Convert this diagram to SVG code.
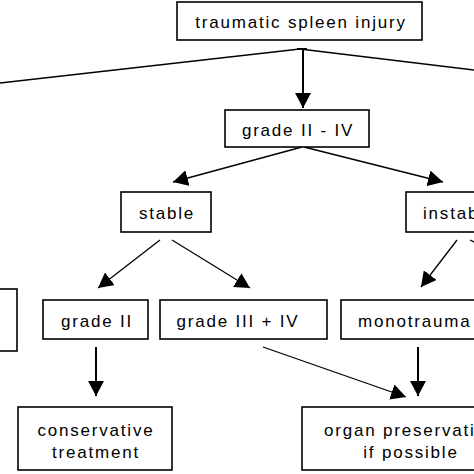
<svg xmlns="http://www.w3.org/2000/svg" width="474" height="474" viewBox="0 0 474 474">
<style>
.box{fill:#fff;stroke:#000;stroke-width:1.6}
.t{font-family:"Liberation Sans",Arial,sans-serif;font-size:17px;letter-spacing:1.8px;fill:#000}
.c{text-anchor:middle}
.ln{stroke:#000;stroke-width:1.3;fill:none}
.v{stroke:#000;stroke-width:2;fill:none}
</style>
<defs>
<marker id="ah" markerUnits="userSpaceOnUse" markerWidth="16" markerHeight="16" refX="15" refY="8" orient="auto" viewBox="0 0 16 16">
<path d="M0,0 L15,8 L0,16 z" fill="#000"/>
</marker>
</defs>
<rect width="474" height="474" fill="#fff"/>
<g id="connectors">
<polyline class="ln" points="0,83 300,49 474,70"/>
<line class="v" x1="297" y1="49" x2="307" y2="49"/>
<line class="v" x1="303" y1="49" x2="303" y2="108" marker-end="url(#ah)"/>
<line class="ln" x1="302" y1="147" x2="173" y2="182" marker-end="url(#ah)"/>
<line class="ln" x1="304" y1="147" x2="443" y2="182" marker-end="url(#ah)"/>
<line class="ln" x1="160" y1="240" x2="98" y2="288" marker-end="url(#ah)"/>
<line class="ln" x1="172" y1="240" x2="250" y2="288" marker-end="url(#ah)"/>
<line class="ln" x1="457" y1="240" x2="421" y2="287" marker-end="url(#ah)"/>
<line class="ln" x1="470" y1="240" x2="480" y2="245"/>
<line class="v" x1="96" y1="347" x2="96" y2="396" marker-end="url(#ah)"/>
<line class="v" x1="418" y1="347" x2="418" y2="396" marker-end="url(#ah)"/>
<line class="ln" x1="263" y1="347" x2="406" y2="397" marker-end="url(#ah)"/>
</g>
<g id="n-injury">
<rect class="box" x="177" y="2" width="245" height="38"/>
<text class="t c" x="301" y="28">traumatic spleen injury</text>
</g>
<g id="n-grade24">
<rect class="box" x="225" y="110" width="144" height="37"/>
<text class="t c" x="298" y="136">grade II - IV</text>
</g>
<g id="n-stable">
<rect class="box" x="121" y="192" width="90" height="40"/>
<text class="t c" x="167" y="219">stable</text>
</g>
<g id="n-instable">
<rect class="box" x="406" y="192" width="110" height="40"/>
<text class="t" x="423" y="219">instable</text>
</g>
<g id="n-left">
<rect class="box" x="-20" y="289" width="37" height="62"/>
</g>
<g id="n-grade2">
<rect class="box" x="43" y="300" width="105" height="39"/>
<text class="t c" x="97" y="327">grade II</text>
</g>
<g id="n-grade34">
<rect class="box" x="160" y="300" width="167" height="39"/>
<text class="t c" x="238" y="327">grade III + IV</text>
</g>
<g id="n-mono">
<rect class="box" x="341" y="300" width="160" height="39"/>
<text class="t" x="358" y="327">monotrauma</text>
</g>
<g id="n-conservative">
<rect class="box" x="18" y="407" width="154" height="63"/>
<text class="t c" x="96" y="436">conservative</text>
<text class="t c" x="96" y="458">treatment</text>
</g>
<g id="n-organ">
<rect class="box" x="302" y="407" width="220" height="63"/>
<text class="t c" x="411" y="436">organ preservation</text>
<text class="t c" x="411" y="458">if possible</text>
</g>
</svg>
